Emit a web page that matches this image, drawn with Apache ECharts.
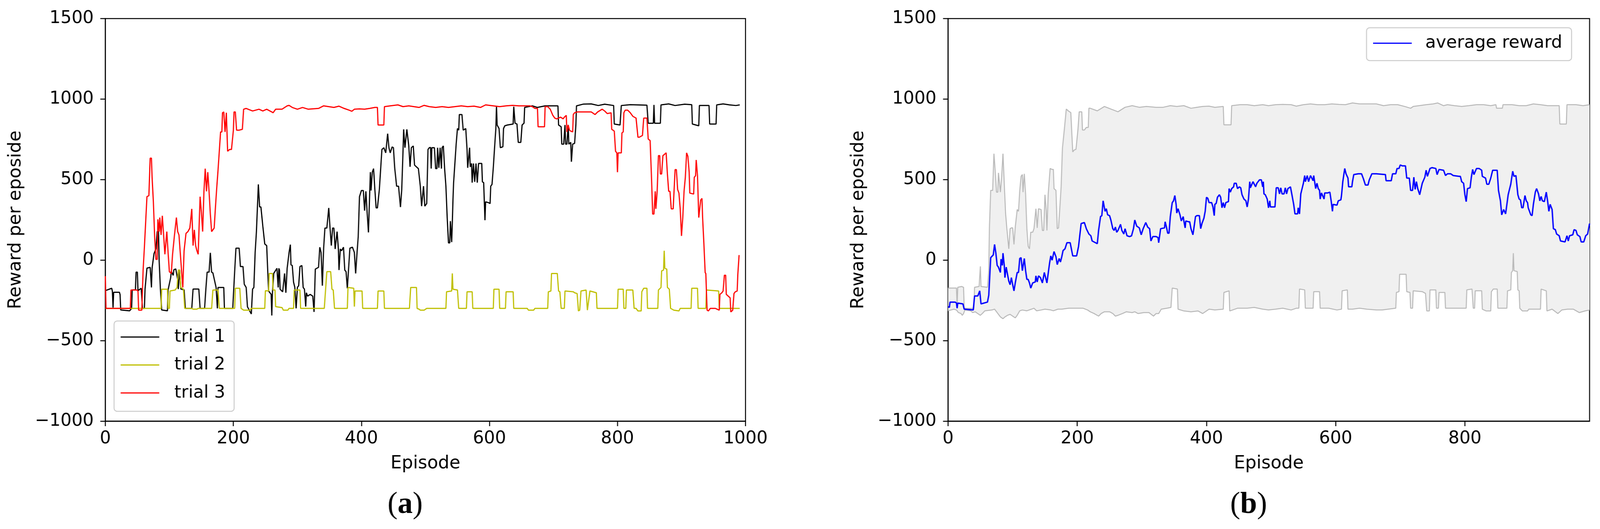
<!DOCTYPE html>
<html>
<head>
<meta charset="utf-8">
<script src="https://cdn.jsdelivr.net/npm/echarts@6/dist/echarts.min.js"></script>
<style>
html,body{margin:0;padding:0;background:#ffffff;overflow:hidden;width:100%;height:100%;}
#c{width:4139px;height:1353px;transform-origin:0 0;position:absolute;left:0;top:0;}
</style>
</head>
<body>
<div id="c"></div>
<script>
// ---------------- DATA ----------------
// [episode, reward] vertices
const trial1 = [[0,-190],[10,-175],[11,-195],[12,-295],[13,-200],[22,-200],[23,-215],[24,-310],[38,-315],[41,-300],[42,-185],[47,-185],[48,-75],[50,-75],[51,-190],[56,-175],[58,-300],[61,-300],[62,-180],[65,-50],[70,-45],[72,-170],[73,-50],[76,40],[79,70],[81,177],[83,177],[84,0],[86,-180],[88,-310],[97,-315],[98,-185],[102,-110],[103,-70],[106,-95],[107,-60],[110,-55],[113,-120],[114,-180],[116,-60],[118,-180],[123,-185],[125,-300],[135,-300],[137,-180],[146,-180],[148,-300],[155,-300],[157,-180],[159,-75],[162,-75],[164,45],[166,-75],[168,-80],[173,-170],[175,-300],[176,-170],[185,-170],[186,-300],[199,-300],[202,-70],[204,74],[209,74],[211,-40],[215,-40],[217,-150],[220,-170],[222,-290],[228,-335],[230,-180],[232,-170],[234,47],[236,177],[239,470],[241,330],[243,330],[246,210],[249,100],[252,90],
[254,-100],[255,-192],[259,-213],[260,-344],[261,-203],[263,-83],[268,-51],[270,-170],[271,-51],[272,-62],[273,-181],[277,-197],[280,-83],[282,-203],[284,-51],[287,47],[289,96],[290,-29],[292,-34],[294,-137],[296,-170],[298,-300],[300,-170],[302,-159],[304,-40],[307,-34],[309,-170],[311,-181],[313,-289],[314,-203],[316,-224],[320,-213],[324,-224],[326,-322],[328,-56],[333,-45],[335,80],[337,47],[339,-159],[341,74],[343,199],[346,199],[349,324],[351,199],[353,90],[355,199],[357,199],[359,69],[362,177],[364,69],[365,-62],[367,69],[369,58],[372,80],[374,-62],[376,-72],[378,-175],[380,-51],[382,74],[386,80],[389,47],[391,-83],[393,36],[395,145],[397,394],[400,432],[403,432],[405,307],[407,427],[409,291],[411,172],[412,297],[414,546],[415,432],[417,546],[419,568],[421,438],[423,324],[425,324],[428,438],[432,687],[435,698],[438,666],[441,785],[443,698],[445,666],[448,703],[450,698],[452,573],[455,459],[458,459],[461,329],[463,438],[465,676],[466,812],[468,698],[471,812],[474,709],[476,579],[478,698],[481,709],[483,590],[486,579],[489,568],[492,459],[494,335],[497,459],[499,335],[502,351],[504,687],[506,698],
[508,700],[509,568],[510,698],[514,698],[516,568],[518,568],[519,698],[521,573],[523,698],[525,568],[526,698],[528,709],[530,568],[532,459],[534,264],[536,107],[538,107],[539,242],[541,112],[542,231],[543,373],[544,481],[546,600],[548,720],[550,817],[552,807],[553,904],[557,904],[559,807],[563,817],[565,687],[566,573],[569,698],[570,579],[572,600],[573,481],[575,600],[577,486],[579,600],[581,481],[583,600],[588,600],[589,486],[591,481],[592,362],[593,248],[594,362],[599,356],[601,351],[602,459],[604,470],[606,573],[608,698],[610,817],[611,953],[612,839],[615,817],[617,698],[621,704],[622,817],[624,834],[628,839],[637,845],[638,953],[640,850],[643,845],[645,731],[649,731],[651,839],[654,850],[655,948],[667,958],[675,948],[687,958],[707,958],[708,839],[712,828],[713,720],[716,720],[718,839],[719,720],[721,720],[723,839],[724,720],[727,731],[728,611],[730,720],[733,725],[735,839],[736,958],[747,969],[759,970],
[770,960],[780,968],[794,960],[795,845],[804,839],[806,960],[820,965],[846,962],[848,850],[856,850],[857,964],[858,850],[867,850],[868,964],[880,970],[890,960],[905,968],[916,965],[917,845],[927,834],[928,960],[943,960],[944,845],[954,845],[955,964],[965,970],[975,964],[985,960],[991,964]];

const trial2 = [[0,-300],[87,-300],[88,-181],[97,-181],[98,-300],[100,-300],[101,-192],[109,-186],[112,-170],[114,-62],[116,-62],[118,-170],[122,-181],[124,-300],[135,-300],[137,-305],[143,-305],[145,-300],[166,-300],[168,-186],[176,-186],[178,-300],[202,-300],[203,-175],[210,-175],[212,-300],[216,-311],[226,-311],[228,-300],[249,-300],[250,-190],
[255,-192],[256,-83],[261,-83],[262,-186],[265,-186],[266,-289],[276,-295],[278,-311],[285,-311],[287,-300],[294,-300],[295,-186],[304,-186],[305,-300],[342,-300],[344,-186],[346,-72],[352,-72],[354,-181],[356,-186],[358,-300],[378,-300],[379,-170],[388,-175],[389,-289],[390,-192],[401,-192],[402,-300],[425,-300],[426,-192],[435,-192],[436,-300],[475,-300],[477,-170],[486,-170],[487,-300],[490,-305],[492,-311],[498,-311],[502,-300],
[532,-300],[533,-197],[541,-192],[542,-83],[543,-181],[550,-186],[552,-300],[564,-300],[565,-197],[573,-197],[574,-300],[606,-300],[607,-181],[615,-181],[616,-300],[625,-300],[626,-197],[637,-197],[638,-300],[659,-300],[661,-311],[669,-311],[671,-300],[691,-300],[692,-197],[696,-192],[697,-83],[706,-83],[708,-192],[710,-197],[712,-300],[717,-300],[718,-192],[731,-197],[733,-203],[737,-208],[739,-316],[741,-311],[743,-192],[751,-186],[753,-311],[757,-192],
[767,-203],[768,-300],[800,-300],[801,-181],[809,-181],[810,-300],[813,-300],[814,-186],[824,-186],[826,-300],[829,-300],[832,-316],[837,-316],[838,-197],[841,-175],[846,-175],[847,-300],[863,-300],[864,-186],[868,-170],[869,-67],[872,-62],[873,58],[874,-51],[877,-56],[878,-170],[881,-181],[883,-300],[888,-311],[896,-316],[898,-300],[915,-300],[916,-175],[925,-175],[926,-300],[938,-300],[939,-186],[958,-192],[959,-300],[991,-300]];

const trial3 = [[0,-100],[1,-300],[39,-300],[40,-186],[49,-186],[51,-192],[52,-311],[57,-311],[59,-62],[61,80],[65,394],[68,400],[70,633],[72,633],[73,514],[75,362],[77,145],[79,4],[81,4],[82,253],[84,177],[85,264],[87,156],[89,275],[91,156],[93,36],[96,177],[98,47],[100,-72],[103,-83],[105,36],[108,156],[111,264],[113,177],[115,156],[117,47],[119,-62],[121,-170],[123,58],[126,166],[129,177],[132,199],[135,318],[137,90],[139,188],[141,90],[143,58],[145,36],[148,394],[150,297],[152,177],[154,427],[156,568],[158,427],[160,546],[162,427],[164,286],[166,177],[170,199],[172,329],[174,448],[176,557],[178,676],[180,796],[182,796],[183,915],[185,920],[187,796],[189,915],[191,676],[194,687],[197,687],[200,807],[201,920],[203,920],[205,807],[209,807],[214,812],[216,937],[220,942],[230,926],[240,937],[246,926],[252,937],
[260,920],[262,915],[266,937],[276,937],[284,958],[287,961],[292,948],[300,937],[308,948],[317,937],[333,942],[341,958],[349,953],[357,948],[365,956],[373,942],[381,931],[385,924],[389,937],[397,939],[405,937],[413,942],[421,948],[425,948],[426,839],[435,839],[436,953],[445,958],[457,964],[465,953],[474,958],[482,953],[490,948],[498,961],[506,953],
[516,948],[526,953],[536,948],[546,953],[556,958],[566,953],[576,956],[586,948],[594,964],[606,958],[616,953],[626,958],[636,961],[646,958],[663,958],[667,953],[671,942],[675,942],[676,828],[686,828],[687,953],[691,953],[695,937],[699,899],[702,882],[705,877],[711,888],[715,877],[717,888],[720,899],[721,796],[723,839],[725,807],[727,801],[730,796],[731,904],[733,915],[737,920],[747,920],[759,920],
[765,904],[769,920],[776,937],[780,926],[784,910],[790,915],[791,812],[793,807],[795,801],[797,676],[799,666],[800,546],[801,666],[806,666],[807,790],[809,796],[810,915],[812,931],[816,931],[820,915],[824,893],[829,882],[830,882],[832,763],[834,763],[839,774],[841,882],[846,882],[848,752],[851,742],[853,530],[855,286],[857,286],[859,427],[860,318],[862,427],[864,649],[866,649],[867,535],[869,535],[871,649],[873,655],[876,666],[878,535],[880,427],[882,427],[884,318],[887,318],[890,562],[892,562],[894,438],[896,416],[898,318],[900,150],[902,264],[904,427],[906,514],[908,666],[910,644],[912,546],[913,416],[919,410],[920,514],[922,524],[923,622],[925,524],[927,264],[930,373],[932,383],[933,264],[935,101],[937,-78],[938,-83],[940,-311],[942,-316],[945,-300],[953,-300],[956,-306],[959,-311],[960,-213],[963,-203],[965,-192],[967,-94],[969,-94],[970,-213],[973,-224],[976,-235],[977,-322],[980,-311],[982,-208],[984,-197],[987,-192],[988,-89],[990,31]];

const avgReward = [[0,-290],[2,-294],[3,-261],[11,-261],[13,-267],[14,-299],[15,-267],[23,-272],[25,-305],[39,-310],[41,-223],[46,-223],[49,-191],[51,-272],[61,-261],[63,-218],[66,15],[70,32],[72,97],[74,43],[76,-33],[78,-44],[81,-77],[82,6],[84,-33],[85,43],[87,-33],[88,-109],[90,-44],[92,-88],[94,-131],[96,-153],[98,-109],[100,-153],[102,-191],[104,-142],[107,-77],[109,-77],[111,10],[113,15],[115,-66],[118,10],[120,-66],[122,-120],[124,-120],[126,-142],[128,-174],[131,-142],[135,-136],[136,-98],[138,-136],[140,-98],[143,-109],[146,-142],[149,-77],[151,-109],[153,-142],[157,-22],[159,26],[161,-1],[164,53],[167,21],[169,-28],[172,10],[174,-12],[176,21],[178,59],[181,70],[184,108],[189,108],[193,26],[199,26],[202,86],[206,227],[211,233],[214,195],[218,162],[221,151],[223,119],[231,102],[233,184],[236,270],[238,276],[240,368],[243,303],[245,319],[247,281],[250,276],[252,249],[255,195],[257,184],[259,205],[261,173],[263,184],[267,222],[269,184],[272,162],[274,195],[277,151],[281,146],[284,151],[287,195],[289,249],[292,211],[296,200],[299,157],[302,195],[306,233],[309,205],[312,195],[314,119],[317,146],[322,146],
[325,140],[326,108],[329,195],[335,200],[336,238],[338,205],[340,167],[342,167],[344,270],[347,357],[349,368],[351,401],[353,346],[354,292],[356,319],[359,281],[361,243],[364,270],[365,243],[367,200],[368,243],[372,238],[374,238],[376,195],[379,157],[380,184],[383,270],[385,276],[389,276],[391,195],[393,227],[396,260],[398,303],[400,390],[402,384],[404,357],[408,357],[410,330],[412,276],[413,346],[415,352],[417,390],[420,406],[422,390],[424,325],[426,357],[428,325],[430,357],[434,363],[435,444],[437,422],[439,444],[442,455],[443,477],[446,477],[448,444],[451,455],[453,449],[455,406],[458,379],[461,368],[463,330],[465,379],[467,487],[468,449],[472,487],[476,455],[478,477],[482,498],[485,498],[487,455],[488,487],[489,411],[491,406],[494,379],[496,325],[498,368],[499,330],[502,330],[506,330],[508,449],[511,449],[513,411],[515,449],[517,411],[520,411],[522,449],[524,411],[526,444],[530,455],[533,390],[535,346],[537,287],[541,287],[542,325],[544,287],[546,411],[548,444],[550,477],[552,525],[553,487],[556,525],[558,487],[561,525],[565,493],[566,525],[569,444],[571,477],[573,444],[575,433],[576,379],[578,417],[582,379],[583,417],[588,417],[591,422],[593,368],[595,303],[596,346],[602,341],[604,368],[608,374],[609,401],[611,487],[613,542],[614,569],[616,536],[619,509],[620,455],[625,455],[626,487],[628,531],[635,536],[640,536],[643,504],[646,466],[650,466],[652,498],[656,536],[663,536],
[677,531],[678,493],[686,493],[688,536],[693,536],[695,569],[698,569],[700,591],[703,585],[708,585],[710,509],[714,509],[716,433],[719,433],[721,515],[723,439],[725,487],[727,444],[730,406],[734,477],[738,515],[740,558],[742,520],[746,569],[749,574],[755,569],[757,531],[760,563],[767,558],[770,525],[773,536],[778,536],[782,525],[791,520],[793,520],[795,487],[798,477],[800,406],[802,363],[804,444],[808,449],[810,515],[812,563],[814,531],[818,569],[822,569],[826,558],[827,520],[832,509],[834,471],[837,471],[840,509],[843,558],[850,558],[852,433],[855,368],[857,281],[860,314],[863,287],[865,346],[867,406],[869,439],[871,471],[874,552],[876,520],[879,525],[882,406],[884,379],[886,374],[888,325],[890,325],[893,401],[895,368],[897,357],[898,325],[902,281],[904,276],[906,346],[909,422],[911,444],[914,411],[916,368],[918,395],[920,368],[923,363],[926,422],[928,368],[930,303],[932,346],[935,314],[937,195],[940,189],[942,162],[946,151],[948,119],[955,113],[958,151],[960,119],[962,151],[967,157],[969,189],[972,184],[974,157],[978,146],[980,113],[984,113],[987,151],[990,162],[993,227]];

const bandUpper = [[0,-174],[13,-174],[14,-280],[15,-169],[21,-164],[24,-169],[25,-300],[40,-300],[41,-169],[48,-164],[50,-39],[51,-164],[61,-169],[63,-66],[64,200],[66,433],[69,433],[71,661],[73,553],[75,422],[77,422],[78,542],[81,422],[83,520],[85,661],[87,477],[89,292],[91,195],[94,70],[96,195],[98,200],[100,200],[102,97],[104,205],[107,314],[109,303],[111,433],[113,520],[115,531],[116,422],[118,536],[120,411],[122,195],[124,86],[126,70],[128,173],[131,173],[133,195],[136,319],[138,200],[140,319],[144,314],[146,184],[148,184],[150,406],[152,303],[153,184],[155,411],[158,569],[161,563],[163,563],[164,444],[167,433],[169,195],[171,200],[173,325],[175,455],[177,694],[180,813],[183,938],[186,927],[190,916],[193,672],[195,683],[198,688],[201,808],[203,921],[207,921],[208,808],[211,808],[214,824],[217,824],[218,943],[220,943],[231,927],[242,954],[252,938],[263,921],[274,949],[285,959],[296,949],[307,954],[322,949],
[333,949],[344,959],[354,954],[365,959],[376,943],[385,949],[394,954],[404,956],[413,949],[426,954],[427,840],[438,840],[439,959],[452,965],[463,965],[474,959],[487,965],[496,959],[507,965],[518,967],[531,965],[539,956],[550,965],[561,970],[572,965],[583,965],[594,970],[605,967],[615,965],[626,976],[637,970],[648,970],[663,970],
[674,959],[685,965],[696,965],[707,954],[716,943],[720,954],[729,959],[740,965],[751,970],[758,976],[767,959],[773,965],[784,959],[795,954],[806,959],[818,965],[829,965],[840,959],[848,965],[849,943],[858,943],[859,965],[873,965],[884,959],[895,959],[906,970],[917,965],[928,959],[946,959],[947,845],[957,845],[958,965],[972,965],[983,959],[993,965]];

const bandLower = [[0,-315],[9,-305],[13,-310],[16,-326],[20,-332],[22,-343],[24,-332],[26,-310],[35,-315],[38,-326],[42,-321],[46,-332],[50,-343],[53,-332],[57,-315],[68,-310],[72,-305],[76,-326],[81,-353],[85,-364],[88,-353],[92,-343],[96,-337],[100,-348],[104,-359],[107,-343],[111,-315],[115,-310],[122,-315],[129,-305],[133,-299],[137,-315],[144,-310],[150,-305],[159,-310],[163,-315],[170,-305],[176,-305],[187,-299],[209,-299],[216,-310],[220,-321],[226,-332],[233,-348],[237,-332],[242,-321],[250,-321],[255,-332],[259,-348],[263,-343],[270,-332],[276,-321],[285,-326],[289,-321],[294,-332],[303,-326],[311,-326],[318,-348],[322,-332],
[326,-332],[330,-305],[339,-299],[345,-294],[347,-174],[355,-180],[356,-305],[365,-316],[376,-321],[387,-316],[394,-332],[404,-305],[413,-310],[426,-305],[427,-201],[435,-191],[436,-316],[448,-299],[463,-299],[474,-294],[487,-305],[496,-310],[507,-305],[518,-299],[531,-310],[539,-299],[543,-299],[544,-180],[552,-185],[553,-299],[565,-299],[566,-196],[575,-196],[576,-299],[589,-299],[602,-310],[609,-305],[610,-191],[618,-185],[619,-305],[626,-305],[637,-299],[648,-305],[663,-310],
[672,-310],[693,-299],[694,-201],[698,-196],[699,-88],[709,-88],[710,-196],[715,-201],[716,-299],[719,-299],[720,-191],[734,-196],[739,-207],[741,-316],[745,-316],[746,-185],[755,-185],[756,-299],[759,-299],[760,-201],[769,-201],[770,-299],[802,-299],[803,-185],[811,-180],[813,-299],[815,-299],[816,-191],[826,-191],[827,-305],[833,-316],[840,-316],[841,-196],[844,-180],[850,-180],[851,-299],[865,-299],[866,-191],[871,-185],[872,-77],[874,-66],[875,43],[876,-66],[881,-71],[882,-185],[884,-191],[885,-299],[889,-316],[897,-316],[899,-305],[917,-305],[918,-180],[926,-191],[927,-316],[935,-305],[944,-332],[950,-310],[959,-305],[968,-305],[977,-326],[986,-316],[993,-310]];

const trialNames = ['trial 1', 'trial 2', 'trial 3'];
const avgName = 'average reward';
const yTicks = {min: -1000, max: 1500, step: 500};
const xTicksA = {min: 0, max: 1000, step: 200};
const xTicksB = {min: 0, max: 993, step: 200};

// ---------------- CHART ----------------
const W = 4139, H = 1353;
const FONT = 'DejaVu Sans';
const el = document.getElementById('c');
const vw = document.documentElement.clientWidth || window.innerWidth || W;
const vh = document.documentElement.clientHeight || window.innerHeight || H;
if (Math.abs(vw - W) > 1 || Math.abs(vh - H) > 1) {
  el.style.transform = 'scale(' + (vw / W) + ',' + (vh / H) + ')';
}
const chart = echarts.init(el, null, {renderer: 'canvas', width: W, height: H});
const minus = v => String(v).replace('-', '\u2212');

function xAxis(grid, t, hideMax) {
  return {
    gridIndex: grid, type: 'value', min: t.min, max: t.max, interval: t.step,
    name: 'Episode', nameLocation: 'middle', nameGap: 86,
    nameTextStyle: {fontFamily: FONT, fontSize: 46, color: '#000', lineHeight: 46},
    axisLine: {show: true, onZero: false, lineStyle: {color: '#000', width: 2.5}},
    axisTick: {show: true, inside: false, length: 13, lineStyle: {color: '#000', width: 2.5}},
    axisLabel: {margin: 23, fontFamily: FONT, fontSize: 45, color: '#000', showMaxLabel: !hideMax,
      formatter: v => (v % t.step === 0 ? minus(v) : '')},
    splitLine: {show: false}
  };
}
function yAxis(grid) {
  return {
    gridIndex: grid, type: 'value', min: yTicks.min, max: yTicks.max, interval: yTicks.step,
    name: 'Reward per eposide', nameLocation: 'middle', nameGap: 208,
    nameTextStyle: {fontFamily: FONT, fontSize: 46, color: '#000', lineHeight: 46},
    axisLine: {show: true, onZero: false, lineStyle: {color: '#000', width: 2.5}},
    axisTick: {show: true, inside: false, length: 13, lineStyle: {color: '#000', width: 2.5}},
    axisLabel: {margin: 30, fontFamily: FONT, fontSize: 45, color: '#000', formatter: v => minus(v)},
    splitLine: {show: false}
  };
}
function lineSeries(name, data, color, xi, width, z) {
  return {
    name: name, type: 'line', xAxisIndex: xi, yAxisIndex: xi, data: data,
    color: color, showSymbol: false, symbol: 'none', smooth: false,
    lineStyle: {color: color, width: width}, z: z, silent: true,
    emphasis: {disabled: true}, animation: false
  };
}

const option = {
  backgroundColor: '#ffffff',
  animation: false,
  grid: [
    {left: 272.5, top: 47.5, width: 1656, height: 1029.5, show: true, borderColor: '#000', borderWidth: 2.5, backgroundColor: 'transparent'},
    {left: 2452.5, top: 47.5, width: 1659.5, height: 1029.5, show: true, borderColor: '#000', borderWidth: 2.5, backgroundColor: 'transparent'}
  ],
  xAxis: [xAxis(0, xTicksA, false), xAxis(1, xTicksB, true)],
  yAxis: [yAxis(0), yAxis(1)],
  legend: [
    {
      data: trialNames, orient: 'vertical', left: 295, top: 821,
      padding: [16, 23, 22, 17], itemWidth: 100, itemHeight: 3, itemGap: 21.5, icon: 'rect',
      textStyle: {fontFamily: FONT, fontSize: 45, color: '#000', lineHeight: 50, padding: [0, 0, 0, 34]},
      backgroundColor: 'rgba(255,255,255,0.8)', borderColor: '#cccccc', borderWidth: 2.5, borderRadius: 8,
      selectedMode: false
    },
    {
      data: [avgName], orient: 'vertical', left: 3535, top: 71,
      padding: [14.5, 24, 19.5, 17], itemWidth: 100, itemHeight: 3, icon: 'rect',
      textStyle: {fontFamily: FONT, fontSize: 45, color: '#000', lineHeight: 50, padding: [0, 0, 0, 30]},
      backgroundColor: 'rgba(255,255,255,0.8)', borderColor: '#cccccc', borderWidth: 2.5, borderRadius: 8,
      selectedMode: false
    }
  ],
  graphic: [
    {type: 'text', x: 1048, y: 1292, style: {text: '{p|(}{b|a}{p|)}', align: 'center', verticalAlign: 'middle',
      rich: {p: {fontFamily: 'Liberation Serif', fontSize: 78, fill: '#000'}, b: {fontFamily: 'Liberation Serif', fontSize: 78, fontWeight: 'bold', fill: '#000'}}}},
    {type: 'text', x: 3230, y: 1292, style: {text: '{p|(}{b|b}{p|)}', align: 'center', verticalAlign: 'middle',
      rich: {p: {fontFamily: 'Liberation Serif', fontSize: 78, fill: '#000'}, b: {fontFamily: 'Liberation Serif', fontSize: 78, fontWeight: 'bold', fill: '#000'}}}}
  ],
  series: [
    lineSeries(trialNames[0], trial1, '#000000', 0, 3, 3),
    lineSeries(trialNames[1], trial2, '#bfbf00', 0, 3, 4),
    lineSeries(trialNames[2], trial3, '#ff0000', 0, 3, 5),
    {
      name: 'band', type: 'custom', xAxisIndex: 1, yAxisIndex: 1, silent: true, clip: true, z: 1,
      data: [[0, 0]], encode: {x: 0, y: 1}, animation: false,
      renderItem: function (params, api) {
        if (params.dataIndex !== 0) return null;
        const pts = [];
        for (let i = 0; i < bandUpper.length; i++) pts.push(api.coord(bandUpper[i]));
        for (let i = bandLower.length - 1; i >= 0; i--) pts.push(api.coord(bandLower[i]));
        return {type: 'polygon', shape: {points: pts}, style: {fill: '#f0f0f0', stroke: null}};
      }
    },
    lineSeries('upper', bandUpper, '#b8b8b8', 1, 2.5, 2),
    lineSeries('lower', bandLower, '#b8b8b8', 1, 2.5, 2),
    lineSeries(avgName, avgReward, '#0000ff', 1, 3.5, 6)
  ]
};
chart.setOption(option);
</script>
</body>
</html>
